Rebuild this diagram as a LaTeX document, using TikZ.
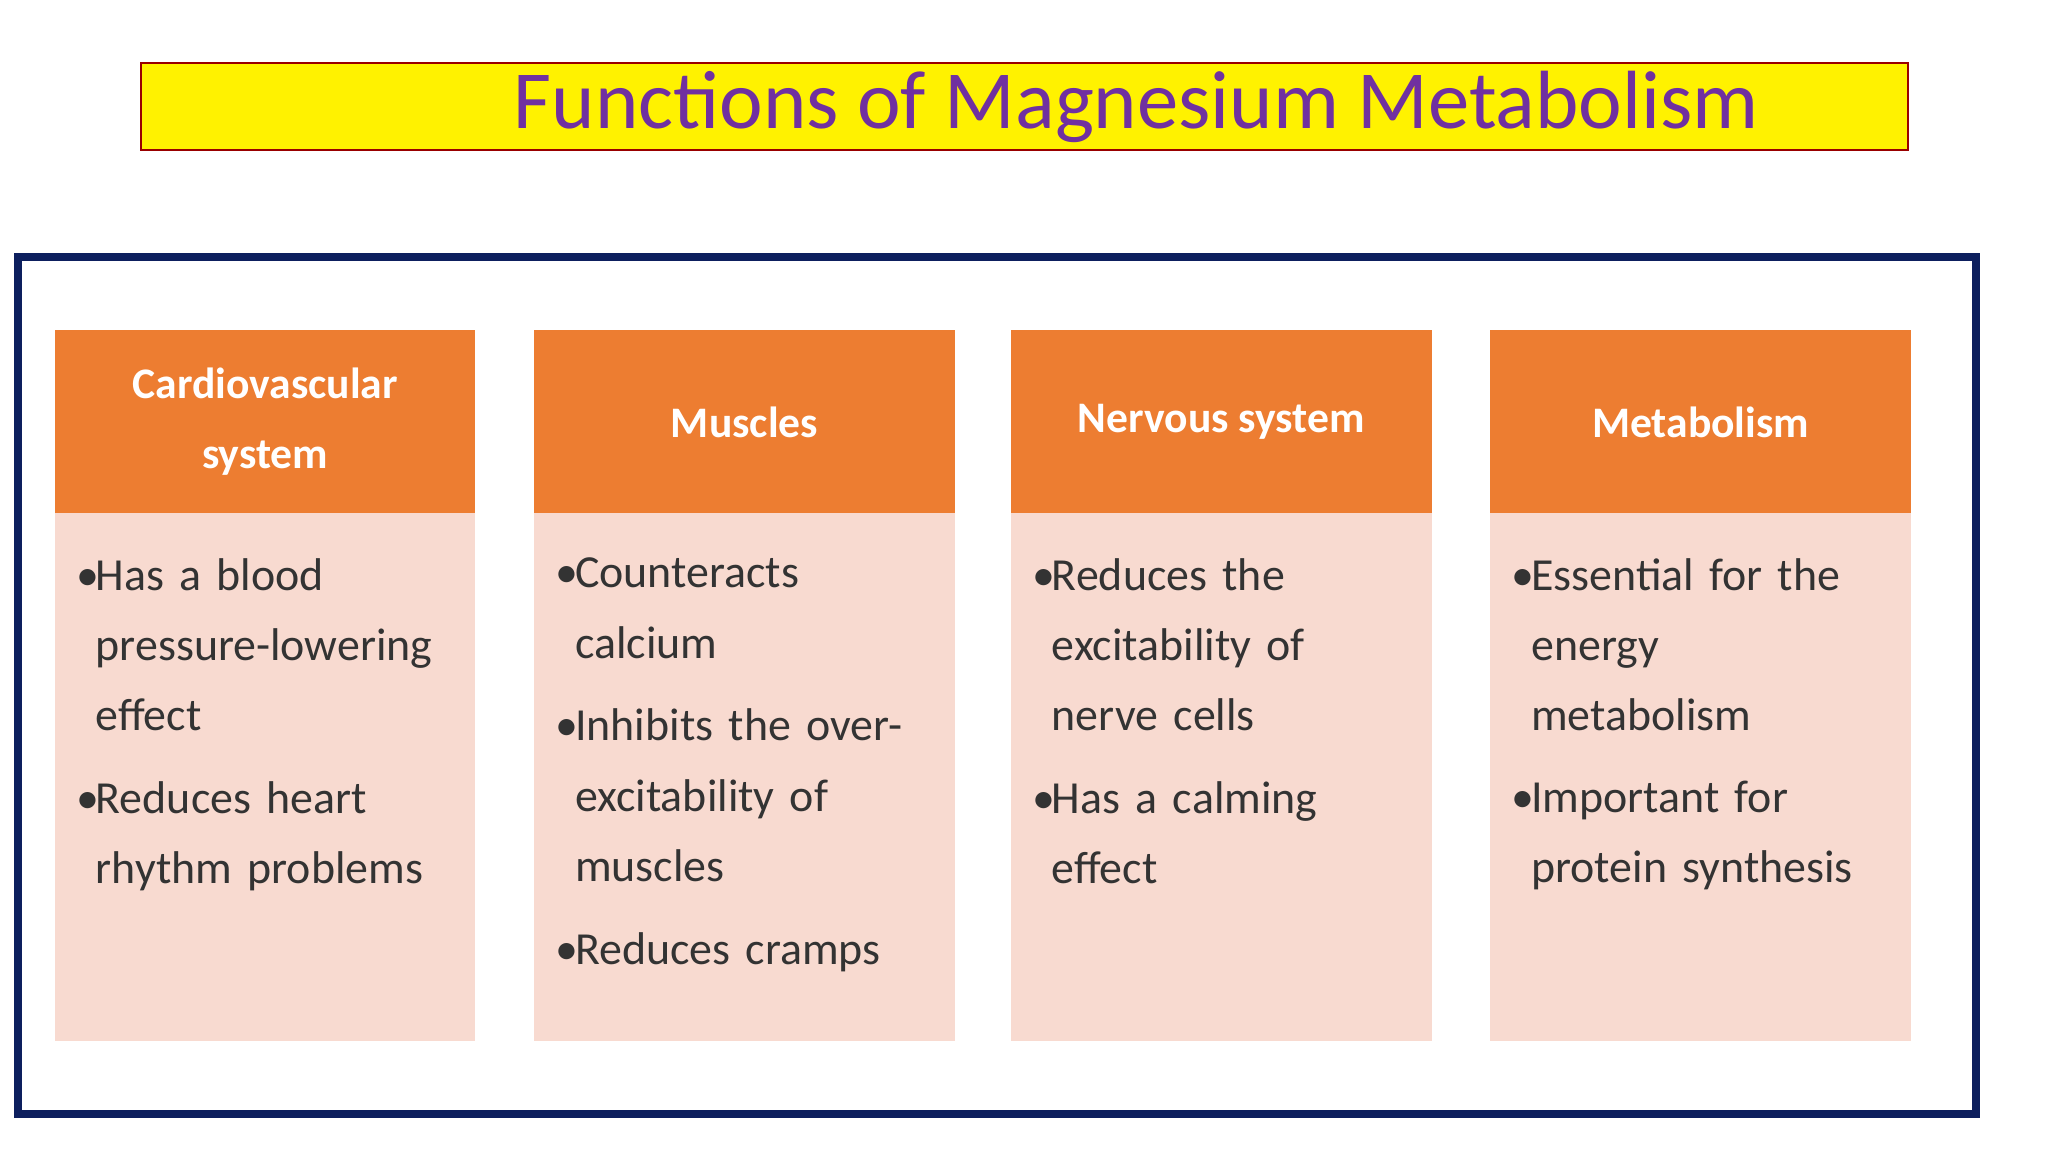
\documentclass[tikz,border=0pt]{standalone}
\usepackage{fontspec}
\setmainfont{Carlito}
\definecolor{ttl}{HTML}{7030A0}
\definecolor{orng}{HTML}{ED7D31}
\definecolor{pink}{HTML}{F8DAD0}
\definecolor{navy}{HTML}{0D1F5E}
\definecolor{bodytxt}{HTML}{333333}
\newcommand{\itm}[1]{\noindent\makebox[0.3cm][l]{\textbullet}\parbox[t]{5.5cm}{\raggedright #1}\par\vspace{21pt}}
\begin{document}
\begin{tikzpicture}[x=0.02cm,y=-0.02cm,
  hdr/.style={fill=orng,draw=none},
  bdy/.style={fill=pink,draw=none},
  hdrtxt/.style={text=white,font=\fontsize{19}{30.6}\selectfont\bfseries,align=center},
  bdytxt/.style={text=bodytxt,anchor=north west,inner sep=0pt,text width=5.9cm,
    font=\fontsize{20}{30.6}\selectfont,align=left}]
\useasboundingbox (0,0) rectangle (1568,882);
\fill[white] (0,0) rectangle (1568,882);
\node[draw=red!60!black,fill=yellow,line width=0.8pt,minimum width=1353*0.02cm,minimum height=67*0.02cm,inner sep=0pt] (title) at (784.5,81.5) {};
\node[text=ttl,font=\fontsize{36}{45}\selectfont,inner sep=0pt] (ttext) at (870,82) {Functions of Magnesium Metabolism};
\draw[navy,line width=3.4pt] (14,197) rectangle (1513,853);
\foreach \n/\x in {a/42,b/409,c/774,d/1141}{
  \fill[hdr] (\x,253) rectangle ++(322,140);
  \fill[bdy] (\x,393) rectangle ++(322,404);
  \coordinate (h\n) at (\x+161,323);
  \coordinate (t\n) at (\x+16,427);
}
\node[hdrtxt] (ha1) at (ha) {Cardiovascular\\system};
\node[hdrtxt] (hb1) at (hb) {Muscles};
\node[hdrtxt] (hc1) at (hc) {Nervous system};
\node[hdrtxt] (hd1) at (hd) {Metabolism};
\node[bdytxt] (ta1) at (ta) {%
  \itm{Has a blood\\pressure-lowering\\effect}
  \itm{Reduces heart\\rhythm problems}};
\node[bdytxt] (tb1) at (tb) {%
  \itm{Counteracts\\calcium}
  \itm{Inhibits the over-\\excitability of\\muscles}
  \itm{Reduces cramps}};
\node[bdytxt] (tc1) at (tc) {%
  \itm{Reduces the\\excitability of\\nerve cells}
  \itm{Has a calming\\effect}};
\node[bdytxt] (td1) at (td) {%
  \itm{Essential for the\\energy\\metabolism}
  \itm{Important for\\protein synthesis}};
\end{tikzpicture}
\end{document}
